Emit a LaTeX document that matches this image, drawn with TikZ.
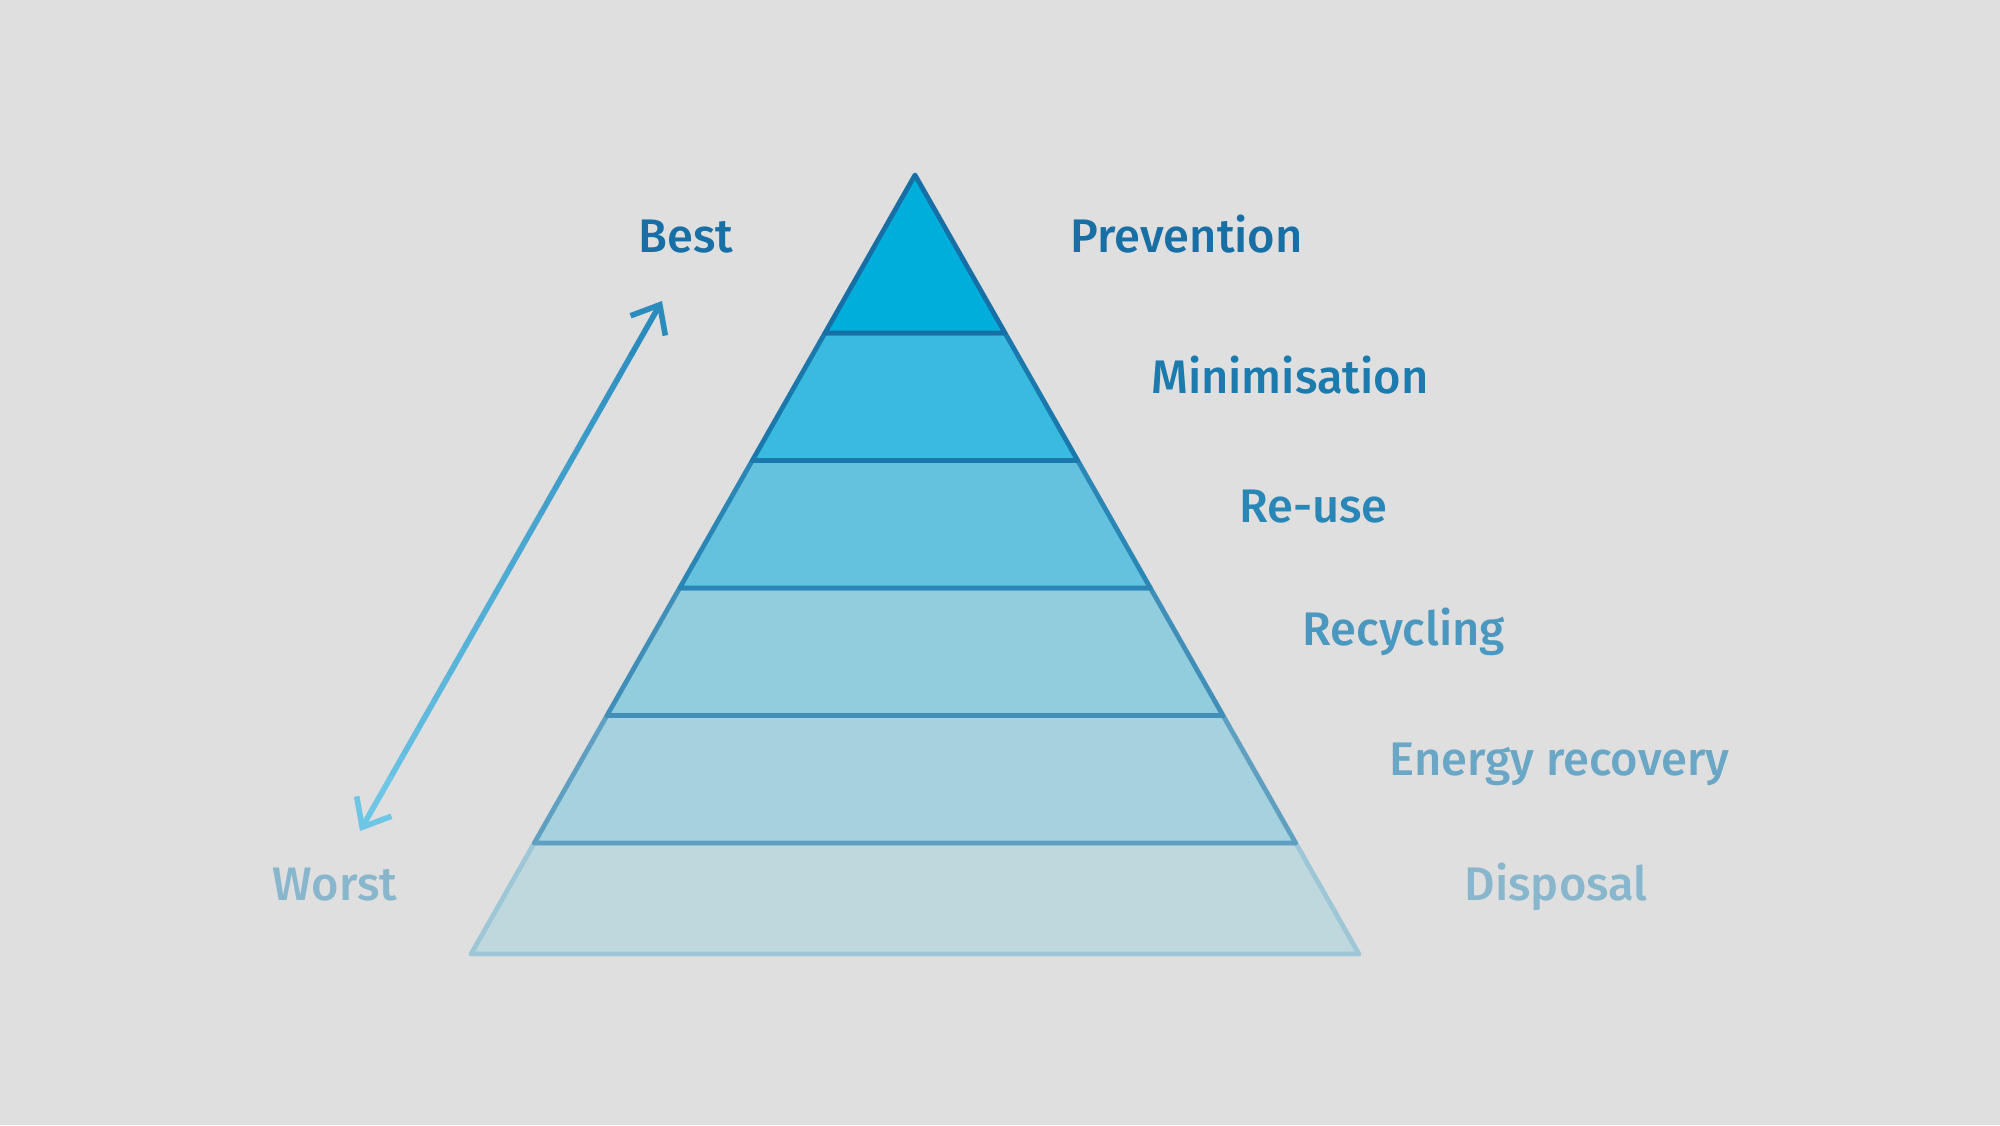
\documentclass[tikz,border=0pt]{standalone}
\usepackage{fontspec}
\setmainfont{Fira Sans}[UprightFont = * Medium]
\usepackage{xcolor}
\usetikzlibrary{calc,arrows.meta}

\definecolor{bg}{HTML}{DFDFDF}
\definecolor{layA}{HTML}{00AEDC}
\definecolor{layB}{HTML}{38BBDE}
\definecolor{layC}{HTML}{63C3DE}
\definecolor{layD}{HTML}{92CDDD}
\definecolor{layE}{HTML}{A5D2DE}
\definecolor{layF}{HTML}{BED8DE}
\definecolor{edgeA}{HTML}{1670A6}
\definecolor{edgeB}{HTML}{1A78AC}
\definecolor{edgeC}{HTML}{2A86B5}
\definecolor{edgeD}{HTML}{3F8FB8}
\definecolor{edgeE}{HTML}{5F9FC2}
\definecolor{edgeF}{HTML}{9DC7D6}
\definecolor{txtA}{HTML}{176FA6}
\definecolor{txtB}{HTML}{1B7AAE}
\definecolor{txtC}{HTML}{2887B7}
\definecolor{txtD}{HTML}{4A97BF}
\definecolor{txtE}{HTML}{6AA7C6}
\definecolor{txtF}{HTML}{88B7CD}
\definecolor{arrtop}{HTML}{2A8CBD}
\definecolor{arrbot}{HTML}{6EC6E6}

\begin{document}
\begin{tikzpicture}[
  lbl/.style = {font=\fontsize{13.4}{16}\selectfont, inner sep=0pt},
  layer/.style = {line width=1.35pt, line join=round},
  arrline/.style = {line width=1.6pt, line cap=round},
  barb/.style = {-{Straight Barb[length=2.4mm, width=4mm]}}]
  \useasboundingbox[fill=bg] (0,0) rectangle (20,11.25);

  \coordinate (top) at (9.15,9.50);
  \coordinate (bl) at (4.71,1.709);
  \coordinate (br) at (13.59,1.709);

  % layers, bottom first
  \foreach \ta/\tb/\fc/\dc in {0.8575/1/layF/edgeF, 0.6939/0.8575/layE/edgeE,
      0.5301/0.6939/layD/edgeD, 0.3665/0.5301/layC/edgeC,
      0.2028/0.3665/layB/edgeB, 0/0.2028/layA/edgeA}
    \filldraw[layer, fill=\fc, draw=\dc] ($(top)!\ta!(bl)$) -- ($(top)!\tb!(bl)$)
      -- ($(top)!\tb!(br)$) -- ($(top)!\ta!(br)$) -- cycle;

  % labels
  \node[lbl, anchor=base west, txtA] (prevention) at (10.70,8.72) {Prevention};
  \node[lbl, anchor=base west, txtB] (minimisation) at (11.505,7.315) {Minimisation};
  \node[lbl, anchor=base west, txtC] (reuse) at (12.385,6.03) {Re-use};
  \node[lbl, anchor=base west, txtD] (recycling) at (13.02,4.80) {Recycling};
  \node[lbl, anchor=base west, txtE] (energy) at (13.89,3.50) {Energy recovery};
  \node[lbl, anchor=base west, txtF] (disposal) at (14.64,2.25) {Disposal};
  \node[lbl, anchor=base, txtA] (best) at (6.86,8.72) {Best};
  \node[lbl, anchor=base, txtF] (worst) at (3.35,2.25) {Worst};

  % best / worst arrow
  \coordinate (worstEnd) at (3.60,2.94);
  \coordinate (bestEnd) at (6.62,8.24);
  \foreach \i in {2,...,17} {
    \pgfmathsetmacro\pa{\i/20}
    \pgfmathsetmacro\pb{(\i+1)/20}
    \pgfmathtruncatemacro\mix{100*\i/19}
    \draw[arrline, arrtop!\mix!arrbot] ($(worstEnd)!\pa!(bestEnd)$) -- ($(worstEnd)!\pb!(bestEnd)$);
  }
  \draw[arrline, barb, arrbot] ($(worstEnd)!0.1!(bestEnd)$) -- (worstEnd);
  \draw[arrline, barb, arrtop] ($(worstEnd)!0.9!(bestEnd)$) -- (bestEnd);
\end{tikzpicture}
\end{document}
